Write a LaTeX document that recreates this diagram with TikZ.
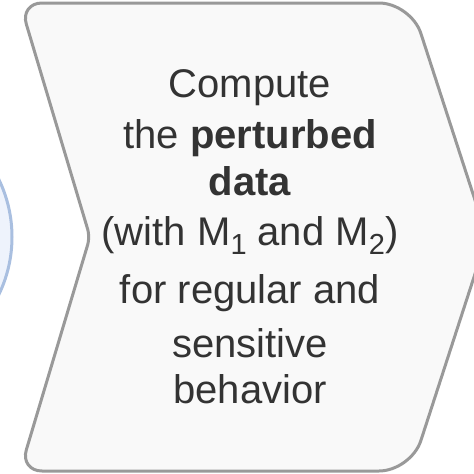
\documentclass[tikz,border=0pt]{standalone}
\usepackage{fontspec}
\setmainfont{Liberation Sans}
\definecolor{chevfill}{HTML}{F9F9F9}
\definecolor{chevline}{HTML}{999999}
\definecolor{circfill}{HTML}{EEF3FC}
\definecolor{circline}{HTML}{A9BFE0}
\definecolor{txt}{HTML}{333333}
\newcommand{\mysub}[1]{\raisebox{-9pt}{\fontsize{29}{29}\selectfont #1}}
\tikzset{
  chevronshape/.style={fill=chevfill, draw=chevline, line width=3pt},
  circshape/.style={fill=circfill, draw=circline, line width=3pt},
  labeltext/.style={text=txt, align=center, inner sep=0pt,
    font=\fontsize{40}{51}\selectfont}
}
\begin{document}
\begin{tikzpicture}[x=1pt,y=-1pt]
\useasboundingbox (0,0) rectangle (474,474);
\clip (0,0) rectangle (474,474);
% neighbouring circle (cut by the left edge)
\draw[circshape] (-120,237) circle[radius=132];
% chevron
\path[chevronshape]
  (200,3)
  [rounded corners=32pt] -- (411,3)
  [rounded corners=10pt] -- (487,237)
  [rounded corners=32pt] -- (411,471)
  [rounded corners=22pt] -- (20,471)
  [rounded corners=8pt] -- (90,237)
  [rounded corners=22pt] -- (20,3)
  -- cycle;
\node[labeltext, anchor=base] (lbl) at (250,403)
  {Compute\\
   the \textbf{perturbed}\\[-4pt]
   \textbf{data}\\[-1pt]
   (with M\mysub{1} and M\mysub{2})\\[7pt]
   for regular and\\[3pt]
   sensitive\\[-5pt]
   behavior};
\end{tikzpicture}
\end{document}
